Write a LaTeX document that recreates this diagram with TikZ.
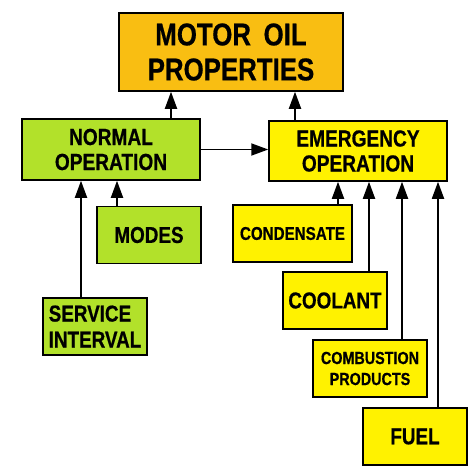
\documentclass[tikz,border=0pt]{standalone}
\usepackage{fontspec}
\setmainfont[FakeStretch=0.82,BoldFeatures={FakeBold=0.6}]{Liberation Sans}
\usetikzlibrary{arrows.meta}
\definecolor{oilorange}{HTML}{F9BE12}
\definecolor{oilgreen}{HTML}{B2E12A}
\definecolor{oilyellow}{HTML}{FFF200}
\begin{document}
\begin{tikzpicture}[x=1pt,y=-1pt]
        \tikzstyle{every node}=[draw=black,line width=1.5pt,inner sep=2pt,align=center,font=\bfseries]
        \tikzstyle{big}=[fill=oilorange,minimum width=224pt,minimum height=78pt,font=\bfseries\fontsize{31.5}{35}\selectfont]
        \tikzstyle{mode}=[fill=oilgreen,minimum width=104pt,minimum height=57pt,font=\bfseries\fontsize{23}{26}\selectfont]
        \tikzstyle{risk}=[fill=oilyellow,minimum width=104pt,minimum height=57pt,font=\bfseries\fontsize{23}{26}\selectfont]
        \tikzstyle{arr}=[line width=1.8pt,-{Triangle[length=17pt,width=12pt]}]
        \useasboundingbox (0,0) rectangle (474,474);
        \node[big] (oil) at (231,52) {MOTOR\hspace{0.4em}OIL\\PROPERTIES};
        \node[mode,minimum width=178pt,minimum height=61pt,font=\bfseries\fontsize{23.3}{25}\selectfont] (normal) at (111,149.5) {NORMAL\\OPERATION};
        \node[risk,minimum width=178pt,minimum height=60pt,font=\bfseries\fontsize{23.3}{25}\selectfont] (emerg) at (358,151) {EMERGENCY\\OPERATION};
        \node[mode] (modes) at (149,235) {MODES};
        \node[mode,align=left] (service) at (95,326.5) {SERVICE\\INTERVAL};
        \node[risk,minimum width=119pt,font=\bfseries\fontsize{18.5}{21}\selectfont] (cond) at (292.5,233.5) {CONDENSATE};
        \node[risk] (coolant) at (335,300.5) {COOLANT};
        \node[risk,minimum width=114pt,font=\bfseries\fontsize{17.5}{21}\selectfont] (comb) at (370,368.5) {COMBUSTION\\PRODUCTS};
        \node[risk] (fuel) at (415,436.5) {FUEL};
        % arrows up to the top box
        \draw[arr] ([xshift=60pt]normal.north) -- ([xshift=60pt]normal.north |- oil.south);
        \draw[arr] ([xshift=-63pt]emerg.north) -- ([xshift=-63pt]emerg.north |- oil.south);
        \draw[arr] (normal.east) -- (normal.east -| emerg.west);
        % causes
        \draw[arr] ([xshift=-14pt]service.north) -- ([xshift=-14pt]service.north |- normal.south);
        \draw[arr] ([xshift=-32pt]modes.north) -- ([xshift=-32pt]modes.north |- normal.south);
        \draw[arr] ([xshift=45.5pt]cond.north) -- ([xshift=45.5pt]cond.north |- emerg.south);
        \draw[arr] ([xshift=34pt]coolant.north) -- ([xshift=34pt]coolant.north |- emerg.south);
        \draw[arr] ([xshift=32pt]comb.north) -- ([xshift=32pt]comb.north |- emerg.south);
        \draw[arr] ([xshift=23pt]fuel.north) -- ([xshift=23pt]fuel.north |- emerg.south);
\end{tikzpicture}
\end{document}
